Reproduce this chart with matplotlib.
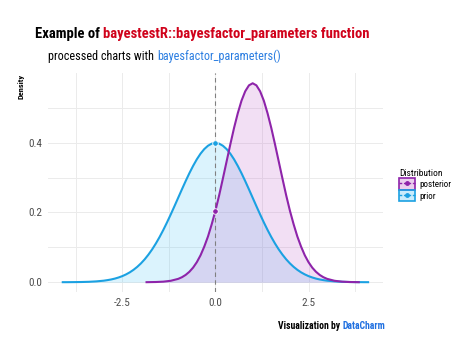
import matplotlib.pyplot as plt
from matplotlib.patches import Patch
from matplotlib.lines import Line2D
from matplotlib.legend_handler import HandlerTuple
import matplotlib.ticker as mtick

# density curves
prior_x = [-4.1, -4.0, -3.8, -3.6, -3.4, -3.2, -3.0, -2.9, -2.8, -2.7, -2.6, -2.5,
           -2.4, -2.3, -2.2, -2.1, -2.0, -1.9, -1.8, -1.7, -1.6, -1.5, -1.4, -1.3,
           -1.2, -1.1, -1.0, -0.9, -0.8, -0.7, -0.6, -0.5, -0.4, -0.3, -0.2, -0.1,
           0.0, 0.1, 0.2, 0.3, 0.4, 0.5, 0.6, 0.7, 0.8, 0.9, 1.0, 1.1, 1.2, 1.3,
           1.4, 1.5, 1.6, 1.7, 1.8, 1.9, 2.0, 2.1, 2.2, 2.3, 2.4, 2.5, 2.6, 2.7,
           2.8, 2.9, 3.0, 3.2, 3.4, 3.6, 3.8, 4.0, 4.1]
prior_y = [0.0001, 0.0001, 0.0003, 0.0006, 0.0012, 0.0024, 0.0044, 0.0060, 0.0079,
           0.0104, 0.0136, 0.0175, 0.0224, 0.0283, 0.0355, 0.0440, 0.0540, 0.0656,
           0.0790, 0.0940, 0.1109, 0.1295, 0.1497, 0.1714, 0.1942, 0.2179, 0.2420,
           0.2661, 0.2897, 0.3123, 0.3332, 0.3521, 0.3683, 0.3814, 0.3910, 0.3970,
           0.3989, 0.3970, 0.3910, 0.3814, 0.3683, 0.3521, 0.3332, 0.3123, 0.2897,
           0.2661, 0.2420, 0.2179, 0.1942, 0.1714, 0.1497, 0.1295, 0.1109, 0.0940,
           0.0790, 0.0656, 0.0540, 0.0440, 0.0355, 0.0283, 0.0224, 0.0175, 0.0136,
           0.0104, 0.0079, 0.0060, 0.0044, 0.0024, 0.0012, 0.0006, 0.0003, 0.0001,
           0.0001]

post_x = [-1.85, -1.8, -1.6, -1.4, -1.2, -1.0, -0.9, -0.8, -0.7, -0.6, -0.5, -0.4,
          -0.3, -0.2, -0.1, 0.0, 0.1, 0.2, 0.3, 0.4, 0.5, 0.6, 0.7, 0.8, 0.9, 1.0,
          1.1, 1.2, 1.3, 1.4, 1.5, 1.6, 1.7, 1.8, 1.9, 2.0, 2.1, 2.2, 2.3, 2.4, 2.5,
          2.6, 2.7, 2.8, 2.9, 3.0, 3.2, 3.4, 3.6, 3.8, 3.85]
post_y = [0.0001, 0.0002, 0.0006, 0.0016, 0.0041, 0.0096, 0.0143, 0.0209, 0.0299,
          0.0418, 0.0574, 0.0771, 0.102, 0.131, 0.166, 0.205, 0.249, 0.297, 0.346,
          0.395, 0.442, 0.484, 0.520, 0.547, 0.564, 0.570, 0.564, 0.547, 0.520,
          0.484, 0.442, 0.395, 0.346, 0.297, 0.249, 0.205, 0.166, 0.131, 0.102,
          0.0771, 0.0574, 0.0418, 0.0299, 0.0209, 0.0143, 0.0096, 0.0041, 0.0016,
          0.0006, 0.0002, 0.0001]

# values at the point null (x = 0)
null_x = 0.0
prior_at_null = 0.3989
post_at_null = 0.205

labels = ["posterior", "prior"]

prior_line = "#1ba1e2"
prior_fill = "#4fc3f7"
post_line = "#8e24aa"
post_fill = "#c060c8"

plt.rcParams["font.family"] = ["Roboto Condensed", "Liberation Sans Narrow", "Roboto", "DejaVu Sans"]

fig = plt.figure(figsize=(4.74, 3.55), dpi=100)
ax = fig.add_axes([0.101, 0.177, 0.707, 0.616])

ax.fill_between(prior_x, prior_y, color=prior_fill, alpha=0.2, lw=0, zorder=2)
ax.fill_between(post_x, post_y, color=post_fill, alpha=0.2, lw=0, zorder=2)
ax.plot(prior_x, prior_y, color=prior_line, lw=1.5, zorder=3)
ax.plot(post_x, post_y, color=post_line, lw=1.5, zorder=3)

ax.axvline(null_x, color="#808080", lw=0.8, ls=(0, (4, 3)), zorder=2.5)
ax.plot([null_x], [prior_at_null], "o", color=prior_line, mec="white", mew=0.6, ms=4, zorder=4)
ax.plot([null_x], [post_at_null], "o", color=post_line, mec="white", mew=0.6, ms=4, zorder=4)

ax.set_xlim(-4.5, 4.5)
ax.set_ylim(-0.0285, 0.598)
ax.xaxis.set_major_locator(mtick.MultipleLocator(2.5))
ax.xaxis.set_minor_locator(mtick.MultipleLocator(1.25))
ax.yaxis.set_major_locator(mtick.MultipleLocator(0.2))
ax.yaxis.set_minor_locator(mtick.MultipleLocator(0.1))
ax.xaxis.set_major_formatter(mtick.FormatStrFormatter("%.1f"))
ax.yaxis.set_major_formatter(mtick.FormatStrFormatter("%.1f"))
ax.grid(which="both", color="#ebebeb", lw=0.7, zorder=0)
ax.set_axisbelow(True)
for s in ax.spines.values():
    s.set_visible(False)
ax.tick_params(which="both", length=0, labelsize=8, labelcolor="#4d4d4d", pad=4)
ax.set_ylabel("Density", loc="top", fontsize=6, fontweight="bold", labelpad=3)

# legend keys: filled box + dashed line + point
handles = []
for lc, fc in [(post_line, post_fill), (prior_line, prior_fill)]:
    box = Patch(facecolor=fc, alpha=0.3, edgecolor="none")
    edge = Patch(facecolor="none", edgecolor=lc, lw=1.2)
    ln = Line2D([], [], color=lc, ls=(0, (2, 1.2)), lw=1.0, marker="o", ms=2.5)
    handles.append((box, edge, ln))
leg = ax.legend(handles, labels, handler_map={tuple: HandlerTuple(ndivide=1)},
                title="Distribution", loc="center left", bbox_to_anchor=(1.025, 0.49),
                frameon=False, fontsize=6.5, title_fontsize=6.8, handlelength=1.7,
                handleheight=1.5, labelspacing=0.1, handletextpad=0.5)
leg._legend_box.align = "left"

# title and subtitle with coloured parts
t1 = fig.text(35 / 474, 1 - 38 / 355, "Example of ", fontsize=10.5, fontweight="bold", color="black")
ax.annotate("bayestestR::bayesfactor_parameters function", xy=(1, 0), xycoords=t1,
            fontsize=10.5, fontweight="bold", color="#d0021b", va="bottom", annotation_clip=False)
s1 = fig.text(48 / 474, 1 - 60 / 355, "processed charts with ", fontsize=8.75, color="black")
ax.annotate("bayesfactor_parameters()", xy=(1, 0), xycoords=s1, fontsize=8.75,
            color="#2a7de1", va="bottom", annotation_clip=False)

c1 = fig.text(385 / 474, 1 - 329 / 355, "DataCharm", fontsize=6.9, fontweight="bold",
              color="#1f6fe0", ha="right")
ax.annotate("Visualization by ", xy=(0, 0), xycoords=c1, fontsize=6.9, fontweight="bold",
            color="black", ha="right", va="bottom", annotation_clip=False)

fig.savefig("out.png", dpi=100)
